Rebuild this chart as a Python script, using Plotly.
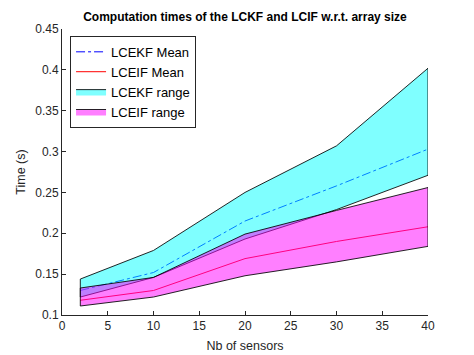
import plotly.graph_objects as go

# Data
nb_sensors = [2, 10, 20, 30, 40]
lcekf_mean = [0.130, 0.152, 0.215, 0.258, 0.303]
lceif_mean = [0.118, 0.130, 0.169, 0.190, 0.208]
lcekf_max = [0.144, 0.179, 0.250, 0.307, 0.402]
lcekf_min = [0.122, 0.146, 0.193, 0.229, 0.271]
lceif_max = [0.133, 0.146, 0.199, 0.228, 0.256]
lceif_min = [0.111, 0.122, 0.148, 0.165, 0.184]

x_ticks = [0, 5, 10, 15, 20, 25, 30, 35, 40]
y_ticks = [0.1, 0.15, 0.2, 0.25, 0.3, 0.35, 0.4, 0.45]
y_tick_labels = ["0.1", "0.15", "0.2", "0.25", "0.3", "0.35", "0.4", "0.45"]

FONT = "Liberation Sans, Arial, sans-serif"
TXT = "#262626"

fig = go.Figure()

fig.add_trace(go.Scatter(
    x=nb_sensors, y=lcekf_mean, mode="lines", name="LCEKF Mean",
    line=dict(color="rgb(0,0,255)", width=1, dash="dashdot"),
))
fig.add_trace(go.Scatter(
    x=nb_sensors, y=lceif_mean, mode="lines", name="LCEIF Mean",
    line=dict(color="rgb(255,0,0)", width=1),
))
fig.add_trace(go.Scatter(
    x=nb_sensors + nb_sensors[::-1] + [nb_sensors[0]],
    y=lcekf_max + lcekf_min[::-1] + [lcekf_max[0]],
    mode="lines", fill="toself", name="LCEKF range",
    fillcolor="rgba(0,255,255,0.5)",
    line=dict(color="rgba(0,0,0,0.85)", width=1),
))
fig.add_trace(go.Scatter(
    x=nb_sensors + nb_sensors[::-1] + [nb_sensors[0]],
    y=lceif_max + lceif_min[::-1] + [lceif_max[0]],
    mode="lines", fill="toself", name="LCEIF range",
    fillcolor="rgba(255,0,255,0.5)",
    line=dict(color="rgba(0,0,0,0.85)", width=1),
))

fig.update_layout(
    width=474, height=355,
    margin=dict(l=62, r=46, t=29, b=40),
    paper_bgcolor="white", plot_bgcolor="white",
    font=dict(family=FONT, size=12, color=TXT),
    title=dict(
        text="<b>Computation times of the LCKF and LCIF w.r.t. array size</b>",
        x=0.5, xref="paper", y=1 - 17 / 355, yref="container",
        xanchor="center", yanchor="middle",
        font=dict(family=FONT, size=12, color="black"),
    ),
    showlegend=True,
    legend=dict(
        x=0.022, y=0.976, xanchor="left", yanchor="top",
        bgcolor="white", bordercolor="#262626", borderwidth=1,
        font=dict(family=FONT, size=13, color="black"),
        tracegroupgap=0, itemwidth=30,
    ),
    xaxis=dict(
        range=[0, 40], tickvals=x_ticks, ticks="inside", ticklen=4,
        tickcolor=TXT, showline=True, linecolor=TXT, linewidth=1,
        showgrid=False, zeroline=False, mirror=False, automargin=False,
        title=dict(text="Nb of sensors", font=dict(size=12.5, color=TXT), standoff=8),
        tickfont=dict(size=12, color=TXT),
    ),
    yaxis=dict(
        range=[0.1, 0.45], tickvals=y_ticks, ticktext=y_tick_labels,
        ticks="inside", ticklen=4,
        tickcolor=TXT, showline=True, linecolor=TXT, linewidth=1,
        showgrid=False, zeroline=False, mirror=False, automargin=False,
        title=dict(text="Time (s)", font=dict(size=12.5, color=TXT), standoff=6),
        tickfont=dict(size=12, color=TXT),
    ),
)

fig.write_html(
    "out.html",
    config={"displayModeBar": False},
    post_script="document.body.style.margin='0';document.body.style.overflow='hidden';",
)
